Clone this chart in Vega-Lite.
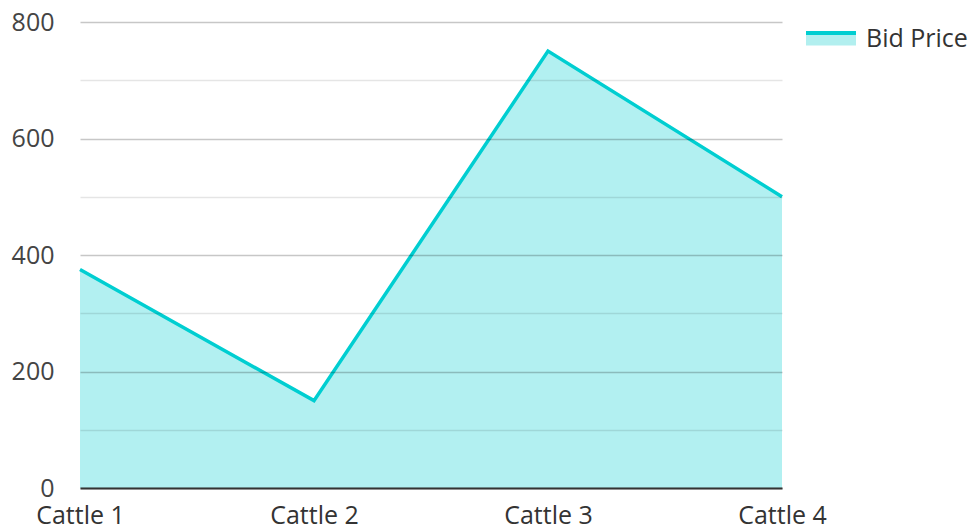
{
  "$schema": "https://vega.github.io/schema/vega-lite/v6.json",
  "autosize": {"type": "none"},
  "width": 702,
  "height": 466,
  "padding": {"left": 80, "top": 22, "right": 190, "bottom": 41},
  "background": "white",
  "config": {
    "font": "Open Sans",
    "view": {"stroke": null}
  },
  "data": {
    "values": [
      {"name": "Cattle 1", "price": 375, "series": "Bid Price"},
      {"name": "Cattle 2", "price": 150, "series": "Bid Price"},
      {"name": "Cattle 3", "price": 750, "series": "Bid Price"},
      {"name": "Cattle 4", "price": 500, "series": "Bid Price"}
    ]
  },
  "encoding": {
    "x": {
      "field": "name",
      "type": "ordinal",
      "scale": {"type": "point", "padding": 0},
      "axis": {
        "title": null,
        "labelAngle": 0,
        "ticks": false,
        "grid": false,
        "domainColor": "#333333",
        "domainWidth": 2,
        "labelFont": "Open Sans",
        "labelFontSize": 25,
        "labelColor": "#333333",
        "labelPadding": 15,
        "zindex": 1
      }
    },
    "y": {
      "field": "price",
      "type": "quantitative",
      "scale": {"domain": [0, 800], "nice": false},
      "axis": {
        "title": null,
        "values": [0, 100, 200, 300, 400, 500, 600, 700, 800],
        "labelExpr": "datum.value % 200 == 0 ? datum.label : ''",
        "domain": false,
        "ticks": false,
        "gridColor": "#000000",
        "gridOpacity": {"condition": {"test": "datum.value % 200 == 0", "value": 0.22}, "value": 0.1},
        "gridWidth": 1.6,
        "labelFont": "Open Sans",
        "labelFontSize": 25,
        "labelColor": "#444444",
        "labelPadding": 26,
        "zindex": 1
      }
    }
  },
  "layer": [
    {
      "mark": {"type": "area", "color": "#00CED1", "opacity": 0.3}
    },
    {
      "mark": {"type": "line", "strokeWidth": 3.5},
      "encoding": {
        "stroke": {
          "field": "series",
          "type": "nominal",
          "scale": {"range": ["#00CED1"]},
          "legend": {
            "title": null,
            "orient": "none",
            "legendX": 724,
            "legendY": -10,
            "padding": 0,
            "symbolType": "M-1,-0.24 L1,-0.24 L1,0.26 L-1,0.26 Z",
            "symbolSize": 2500,
            "symbolStrokeWidth": 4,
            "symbolDash": [50, 300],
            "symbolOpacity": 1,
            "labelFont": "Open Sans",
            "labelFontSize": 25,
            "labelColor": "#333333",
            "labelOffset": 8,
            "encode": {"symbols": {"update": {"fill": {"value": "#b2efef"}, "fillOpacity": {"value": 1}}}}
          }
        }
      }
    }
  ]
}
